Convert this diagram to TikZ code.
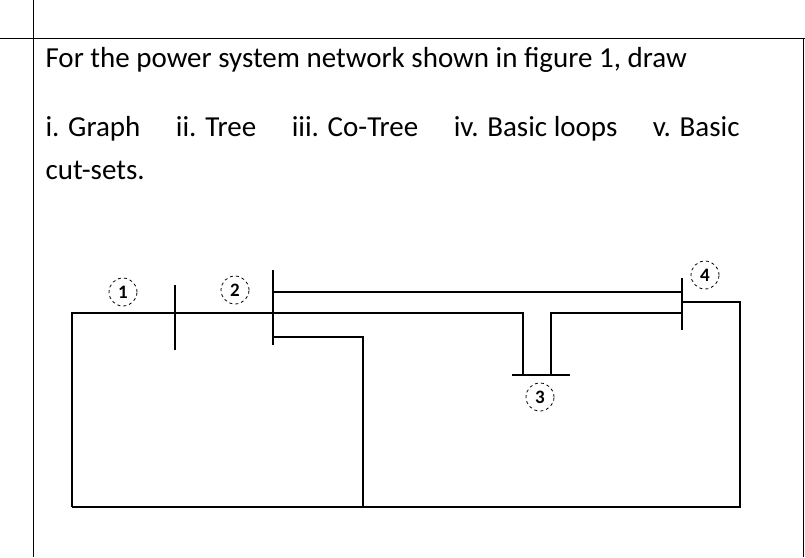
\documentclass[tikz,border=0pt]{standalone}
\usepackage{fontspec}
\setmainfont{Carlito}
\begin{document}
\begin{tikzpicture}[x=1pt,y=-1pt,
  ln/.style={line width=1.1pt},
  bus/.style={line width=1.4pt},
  num/.style={draw,circle,dashed,line width=0.8pt,minimum size=28pt,inner sep=0pt,font=\bfseries\fontsize{19}{19}\selectfont},
  txt/.style={anchor=west,font=\fontsize{29}{34}\selectfont}]
\useasboundingbox (0,0) rectangle (805,557);
\draw[line width=0.8pt] (33,0) -- (33,557) (0,38) -- (805,38) (803,38) -- (803,557);
\node[txt] (t1) at (42,60) {For the power system network shown in figure 1, draw};
\node[txt] (t2) at (42,129) {i. Graph\quad\ ii. Tree\quad\ iii. Co-Tree\quad\ iv. Basic loops\quad\ v. Basic};
\node[txt] (t3) at (42,170) {cut-sets.};
% buses
\draw[bus] (175,285) -- (175,350);
\draw[bus] (273,270) -- (273,345);
\draw[bus] (682,278) -- (682,330);
\draw[bus] (512,375) -- (570,375);
\node[num] (n1) at (123,292) {1};
\node[num] (n2) at (235,290) {2};
\node[num] (n3) at (540,397) {3};
\node[num] (n4) at (705,275) {4};
% lines
\draw[ln] (72,507) -- (72,313) -- (523,313) -- (523,375);
\draw[ln] (273,292) -- (682,292);
\draw[ln] (551,375) -- (551,313) -- (682,313);
\draw[ln] (273,337) -- (363,337) -- (363,507);
\draw[ln] (682,302) -- (740,302) -- (740,507) -- (72,507);
\end{tikzpicture}
\end{document}
